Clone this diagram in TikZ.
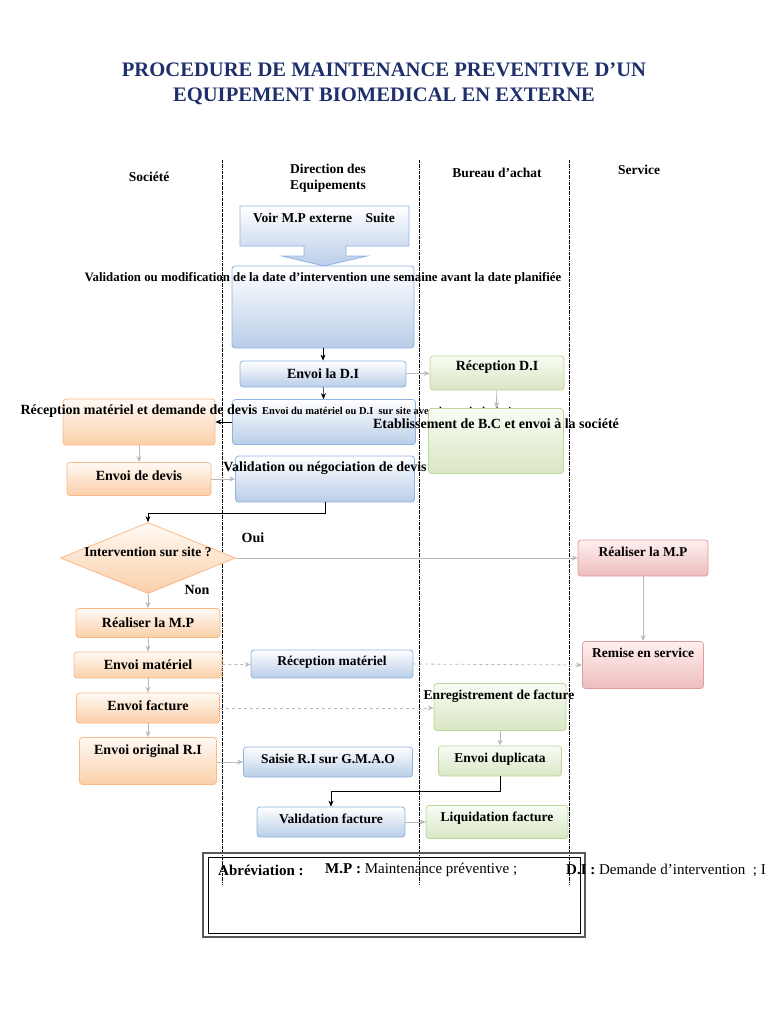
\documentclass[tikz,border=0pt]{standalone}
\usepackage{fontspec}
\setmainfont{Liberation Serif}
\usetikzlibrary{arrows.meta,shapes.geometric}
\definecolor{titleblue}{HTML}{1F2F6B}
\definecolor{bluedraw}{HTML}{8EB4E3}
\definecolor{bluefill}{HTML}{B9CDE8}
\definecolor{ordraw}{HTML}{F9B989}
\definecolor{orfill}{HTML}{FBCFA8}
\definecolor{grdraw}{HTML}{BCD59A}
\definecolor{grfill}{HTML}{D9E6C3}
\definecolor{rddraw}{HTML}{E39A9A}
\definecolor{rdfill}{HTML}{EDBDBD}

\begin{document}
\begin{tikzpicture}[x=1pt,y=-1pt,
    lbl/.style={font=\fontsize{14}{16}\selectfont\bfseries, inner sep=0pt},
    small/.style={font=\fontsize{13.5}{16}\selectfont\bfseries, inner sep=0pt},
    bluebox/.style={draw=bluedraw, rounded corners=3pt, top color=white, bottom color=bluefill, line width=0.8pt},
    orbox/.style={draw=ordraw, rounded corners=3pt, top color=orange!4, bottom color=orfill, line width=0.8pt},
    grbox/.style={draw=grdraw, rounded corners=3pt, top color=green!50!olive!4, bottom color=grfill, line width=0.8pt},
    rdbox/.style={draw=rddraw, rounded corners=3pt, top color=red!6, bottom color=rdfill, line width=0.8pt},
    arr/.style={-{Stealth[length=6pt,width=5pt]}, black, line width=0.6pt},
    garr/.style={-{Stealth[length=6pt,width=5pt]}, gray!55, line width=0.8pt},
    lane/.style={densely dashdotted, line width=0.5pt}]
    \useasboundingbox (0,0) rectangle (768,1024);

    % Title
    \node[font=\fontsize{20.6}{25}\selectfont\bfseries, text=titleblue, align=center] (title) at (384,84)
        {PROCEDURE DE MAINTENANCE PREVENTIVE D'UN\\EQUIPEMENT BIOMEDICAL EN EXTERNE};

    % Lanes
    \draw[lane] (222,160) -- (222,885);
    \draw[lane] (419,160) -- (419,885);
    \draw[lane] (569,160) -- (569,885);
    \node[small] (hsoc) at (149,177) {Société};
    \node[small, align=center] (hdir) at (328,178) {Direction des\\Equipements};
    \node[small] (hbur) at (497,173) {Bureau d'achat};
    \node[small] (hser) at (639,170) {Service};

    % Block arrow
    \draw[draw=bluedraw, top color=white, bottom color=bluefill, line width=0.8pt]
        (240,206) -- (409,206) -- (409,246) -- (346,246) -- (346,256) -- (367,256) -- (324,266)
        -- (282,256) -- (304,256) -- (304,246) -- (240,246) -- cycle;
    \node[small] (voir) at (324,218) {Voir M.P externe\quad Suite};

    % Direction des Equipements
    \node[bluebox, minimum width=182, minimum height=82] (valid) at (323,307) {};
    \node[font=\fontsize{12.8}{14}\selectfont\bfseries, inner sep=0pt] (tvalid) at (323,278)
        {Validation ou modification de la date d'intervention une semaine avant la date planifiée};
    \node[bluebox, minimum width=166, minimum height=26] (envdi) at (323,374) {};
    \node[lbl] at (envdi) {Envoi la D.I};
    \node[bluebox, minimum width=183, minimum height=45] (envmat) at (324,422) {};
    \node[font=\fontsize{10.5}{12}\selectfont\bfseries, inner sep=0pt, anchor=west] (tenvmat) at (262,411)
        {Envoi du matériel ou D.I\enspace sur site avec demande de devis};
    \node[bluebox, minimum width=179, minimum height=46] (nego) at (325,479) {};
    \node[lbl] (tnego) at (325,468) {Validation ou négociation de devis};

    % Bureau d'achat
    \node[grbox, minimum width=134, minimum height=34] (recdi) at (497,373) {};
    \node[lbl] at (497,367) {Réception D.I};
    \node[grbox, minimum width=135, minimum height=65] (etab) at (496,441) {};
    \node[lbl] (tetab) at (496,424) {Etablissement de B.C et envoi à la société};

    % Société
    \node[orbox, minimum width=152, minimum height=46] (recmat) at (139,422) {};
    \node[lbl] (trecmat) at (139,411) {Réception matériel et demande de devis};
    \node[orbox, minimum width=144, minimum height=33] (devis) at (139,479) {};
    \node[lbl] at (139,476) {Envoi de devis};

    % Decision
    \node[diamond, draw=ordraw, top color=orange!4, bottom color=orfill, line width=0.8pt,
        minimum width=175, minimum height=71, inner sep=0pt, aspect=2.4] (dec) at (148,558) {};
    \node[small] at (148,552) {Intervention sur site ?};
    \node[lbl] (oui) at (253,538) {Oui};
    \node[lbl] (non) at (197,590) {Non};

    \node[orbox, minimum width=144, minimum height=29] (realo) at (148,623) {};
    \node[lbl] at (realo) {Réaliser la M.P};
    \node[orbox, minimum width=148, minimum height=26] (envoim) at (148,665) {};
    \node[lbl] at (envoim) {Envoi matériel};
    \node[orbox, minimum width=143, minimum height=30] (envfac) at (148,708) {};
    \node[lbl] at (148,706) {Envoi facture};
    \node[orbox, minimum width=137, minimum height=47] (envri) at (148,761) {};
    \node[lbl] at (148,751) {Envoi original R.I};

    \node[bluebox, minimum width=162, minimum height=28] (recm) at (332,664) {};
    \node[small] at (332,662) {Réception matériel};
    \node[bluebox, minimum width=169, minimum height=30] (saisie) at (328,762) {};
    \node[small] at (328,759) {Saisie R.I sur G.M.A.O};
    \node[bluebox, minimum width=148, minimum height=30] (valfac) at (331,822) {};
    \node[small] at (331,819) {Validation facture};

    \node[grbox, minimum width=132, minimum height=47] (enreg) at (500,707) {};
    \node[small] (tenreg) at (499,696) {Enregistrement de facture};
    \node[grbox, minimum width=123, minimum height=30] (dupl) at (500,761) {};
    \node[small] at (500,759) {Envoi duplicata};
    \node[grbox, minimum width=142, minimum height=33] (liq) at (497,822) {};
    \node[small] at (497,818) {Liquidation facture};

    % Service
    \node[rdbox, minimum width=130, minimum height=36] (realr) at (643,558) {};
    \node[small] at (643,552) {Réaliser la M.P};
    \node[rdbox, minimum width=121, minimum height=47] (remise) at (643,665) {};
    \node[small] at (643,653) {Remise en service};

    % Connectors
    \draw[arr] (valid) -- (envdi);
    \draw[arr] (envdi) -- (envmat);
    \draw[garr] (envdi) -- (recdi);
    \draw[garr] (recdi) -- (etab);
    \draw[arr] (envmat) -- (recmat);
    \draw[garr] (recmat) -- (devis);
    \draw[garr] (devis) -- (nego);
    \draw[arr] (nego.south) -- ++(0,11) -| (dec.north);
    \draw[garr] (dec.east) -- (realr.west);
    \draw[garr] (realr) -- (remise);
    \draw[garr] (dec) -- (realo);
    \draw[garr] (realo) -- (envoim);
    \draw[garr] (envoim) -- (envfac);
    \draw[garr] (envfac) -- (envri);
    \draw[garr, dashed] (envoim) -- (recm);
    \draw[garr, dashed] (recm.east) -- (remise.west);
    \draw[garr, dashed] (envfac.east) -- (envfac.east -| enreg.west);
    \draw[garr] (envri.east |- saisie) -- (saisie.west);
    \draw[garr] (enreg) -- (dupl);
    \draw[arr] (dupl.south) -- ++(0,15) -| (valfac.north);
    \draw[garr] (valfac) -- (liq);

    % Legend
    \draw[line width=1.2pt, gray!70!black] (203,853) rectangle (585,937);
    \draw[line width=0.8pt] (208,857) rectangle (580,933);
    \node[anchor=west, font=\fontsize{15}{17}\selectfont\bfseries, inner sep=0pt] (abrev) at (218,870) {Abréviation :};
    \node[anchor=west, font=\fontsize{15}{17}\selectfont, inner sep=0pt] (abmp) at (325,870) {\textbf{M.P :} Maintenance préventive ;};
    \node[anchor=west, font=\fontsize{15}{17}\selectfont, inner sep=0pt] (abdi) at (566,870) {\textbf{D.I :} Demande d'intervention\enspace ; I};
\end{tikzpicture}
\end{document}
